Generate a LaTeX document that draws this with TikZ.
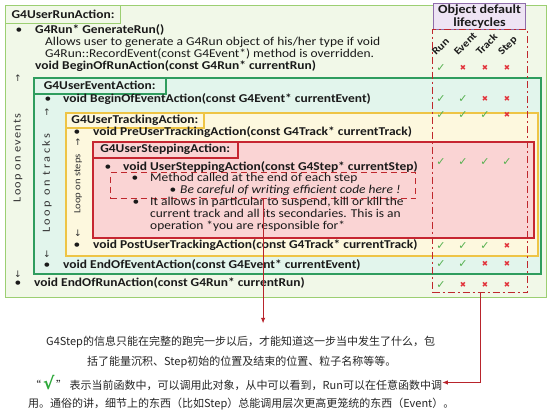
\documentclass[tikz,border=0pt]{standalone}
\usepackage{fontspec}
\setmainfont{Carlito}[FakeStretch=1.12]
\newfontfamily\cjk{Noto Sans CJK SC}
\newfontfamily\symf{DejaVu Sans}
\usetikzlibrary{arrows.meta,positioning,calc}

\definecolor{ink}{HTML}{1A1A1A}
\definecolor{loopgray}{HTML}{333333}
\definecolor{notegray}{HTML}{262626}
\definecolor{runfill}{HTML}{F1F8E8}
\definecolor{runline}{HTML}{9CCF72}
\definecolor{evfill}{HTML}{E2F5EC}
\definecolor{evline}{HTML}{2F9D5E}
\definecolor{trfill}{HTML}{FDF8DE}
\definecolor{trline}{HTML}{EEC445}
\definecolor{stfill}{HTML}{FAD4D4}
\definecolor{stline}{HTML}{C62631}
\definecolor{hdrfill}{HTML}{EEE4F4}
\definecolor{hdrline}{HTML}{8F6DAB}
\definecolor{dashred}{HTML}{C0272D}
\definecolor{arrowred}{HTML}{B8242C}
\definecolor{okgreen}{HTML}{55B04F}
\definecolor{bigcheck}{HTML}{2DA83A}
\definecolor{nored}{HTML}{E2333B}

\newcommand\fsz{\fontsize{12}{13}\selectfont}
\newcommand\yes{\textcolor{okgreen}{\fontsize{11}{11}\selectfont ✓}}
\newcommand\no{\textcolor{nored}{\fontsize{7.5}{7.5}\selectfont ✖}}

\begin{document}
\begin{tikzpicture}[x=1pt, y=-1pt,
    box/.style={draw, anchor=north west, inner sep=0pt},
    tab/.style={draw, anchor=north west, inner xsep=4pt, inner ysep=0pt,
                minimum width=#1, font=\fsz\bfseries, text=ink},
    line/.style={anchor=base west, inner sep=0pt, font=\fsz, text=ink},
    bold/.style={line, font=\fsz\bfseries},
    dot/.style={line, anchor=base},
    loop/.style={rotate=90, inner sep=0pt, text=loopgray},
    arrowmark/.style={inner sep=0pt, text=loopgray,
                      font=\symf\fontsize{9}{9}\selectfont},
    lifemark/.style={inner sep=0pt, font=\symf},
    colhead/.style={anchor=base west, rotate=45, inner sep=0pt,
                    font=\fontsize{10.5}{10.5}\selectfont\bfseries, text=ink},
    note/.style={anchor=base west, inner sep=0pt,
                 font=\cjk\fontsize{11}{12}\selectfont, text=notegray},
    redarr/.style={-{Latex[length=2mm, width=1.6mm]}, draw=arrowred, line width=1pt}
]
\useasboundingbox[fill=white] (0,0) rectangle (554,413);

% nested action boxes
\node[box, fill=runfill, draw=runline, line width=1.2pt,
      minimum width=541pt, minimum height=292pt] (run) at (5,5) {};
\node[box, fill=evfill, draw=evline, line width=1.5pt,
      minimum width=507pt, minimum height=196pt] (event) at (33,77) {};
\node[box, fill=trfill, draw=trline, line width=1.8pt,
      minimum width=472pt, minimum height=143pt] (track) at (65,112) {};
\node[box, fill=stfill, draw=stline, line width=1.5pt,
      minimum width=441pt, minimum height=96pt] (step) at (92,141) {};

\node[tab=115pt, draw=runline, line width=1.2pt, minimum height=18pt] (runtab) at (run.north west) {G4UserRunAction:};
\node[tab=132pt, draw=evline, line width=1.5pt, minimum height=16pt] (evtab) at (event.north west) {G4UserEventAction:};
\node[tab=138pt, draw=trline, line width=1.8pt, minimum height=15pt] (trtab) at (track.north west) {G4UserTrackingAction:};
\node[tab=145pt, draw=stline, line width=1.5pt, minimum height=16pt] (sttab) at (step.north west) {G4UserSteppingAction:};

% run level
\node[dot] (d1) at (19,33) {•};
\node[bold] (genrun) at (35,33) {G4Run* GenerateRun()};
\node[line] (allow1) at (45,45.5) {Allows user to generate a G4Run object of his/her type if void};
\node[line] (allow2) at (45,57.5) {G4Run::RecordEvent(const G4Event*) method is overridden.};
\node[bold] (beginrun) at (35,69.5) {void BeginOfRunAction(const G4Run* currentRun)};
\node[dot] (d9) at (18,286.5) {•};
\node[bold] (endrun) at (34,286.5) {void EndOfRunAction(const G4Run* currentRun)};

% event level
\node[dot] (d2) at (48,102.5) {•};
\node[bold] (beginev) at (63,102.5) {void BeginOfEventAction(const G4Event* currentEvent)};
\node[dot] (d8) at (47,268) {•};
\node[bold] (endev) at (63,268) {void EndOfEventAction(const G4Event* currentEvent)};

% track level
\node[dot] (d3) at (77,135.5) {•};
\node[bold] (pretrack) at (93,135.5) {void PreUserTrackingAction(const G4Track* currentTrack)};
\node[dot] (d7) at (77,248) {•};
\node[bold] (posttrack) at (93,248) {void PostUserTrackingAction(const G4Track* currentTrack)};

% step level
\node[dot] (d4) at (108,170) {•};
\node[bold] (stepact) at (123,170) {void UserSteppingAction(const G4Step* currentStep)};
\node[draw=dashred, line width=1.2pt, dash pattern=on 6pt off 4pt,
      minimum width=305pt, minimum height=26pt, box] (hint) at (110,172) {};
\node[dot] (d5) at (135,181.5) {•};
\node[line] (called) at (150,181.5) {Method called at the end of each step};
\node[dot] (d5b) at (173,193.5) {•};
\node[line, font=\fsz\itshape] (careful) at (180,193.5) {Be careful of writing efficient code here !};
\node[dot] (d6) at (136,205.5) {•};
\node[line] (allows) at (150,205.5) {It allows in particular to suspend, kill or kill the};
\node[line] (allows2) at (150,217.5) {current track and all its secondaries. This is an};
\node[line] (allows3) at (150,229.5) {operation *you are responsible for*};

% loop labels
\node[loop, font=\fontsize{11}{11}\selectfont\addfontfeatures{LetterSpace=10}] (loopev) at (18,158) {Loop on events};
\node[arrowmark] (evup) at (18,78) {↑};
\node[arrowmark] (evdown) at (18,274) {↓};
\node[loop, font=\fontsize{11}{11}\selectfont\addfontfeatures{LetterSpace=22}] (looptr) at (47,183) {Loop on tracks};
\node[arrowmark] (trup) at (47,112) {↑};
\node[arrowmark] (trdown) at (47,254) {↓};
\node[loop, font=\fontsize{9.5}{9.5}\selectfont] (loopst) at (78,184) {Loop on steps};
\node[arrowmark] (stup) at (78,142) {↑};
\node[arrowmark] (stdown) at (78,233) {↓};

% lifecycle columns
\node[box, draw=hdrline, fill=hdrfill, line width=1pt, align=center,
      minimum width=92pt, minimum height=26pt,
      font=\fontsize{12.5}{12.5}\selectfont\bfseries, text=ink] (hdr) at (433,3) {Object default\\lifecycles};
\node[box, draw=dashred, line width=1.4pt,
      dash pattern=on 7pt off 3pt on 2pt off 3pt,
      minimum width=95pt, minimum height=263pt] (cols) at (432,29) {};
\foreach \lab [count=\i] in {Run,Event,Track,Step}
  \node[colhead] (h\i) at ({436+22*(\i-1)},56) {\lab};
\foreach \y/\a/\b/\c/\d in {68/1/0/0/0, 99/1/1/0/0, 115/1/1/1/0, 162/1/1/1/1,
                            246/1/1/1/0, 264/1/1/0/0, 285/1/0/0/0}
  \foreach \x/\v in {441/\a, 463/\b, 485/\c, 507/\d}
    \node[lifemark] (m-\y-\x) at (\x,\y) {\ifnum\v=1 \yes\else\no\fi};

% notes below
\node[note] (note1) at (46,345) {G4Step的信息只能在完整的跑完一步以后，才能知道这一步当中发生了什么，包};
\node[note] (note2) at (87,365) {括了能量沉积、Step初始的位置及结束的位置、粒子名称等等。};
\node[note] (note3) at (30,389) {“\,{\symf\bfseries\fontsize{17}{17}\selectfont\color{bigcheck}√}\,”~表示当前函数中，可以调用此对象，从中可以看到，Run可以在任意函数中调};
\node[note] (note4) at (28,407) {用。通俗的讲，细节上的东西（比如Step）总能调用层次更高更笼统的东西（Event）。};

\draw[redarr] (hint.south) -- ([yshift=12pt]hint.south |- note1.north);
\draw[redarr] (cols.south) |- (note3.east);

\end{tikzpicture}
\end{document}
